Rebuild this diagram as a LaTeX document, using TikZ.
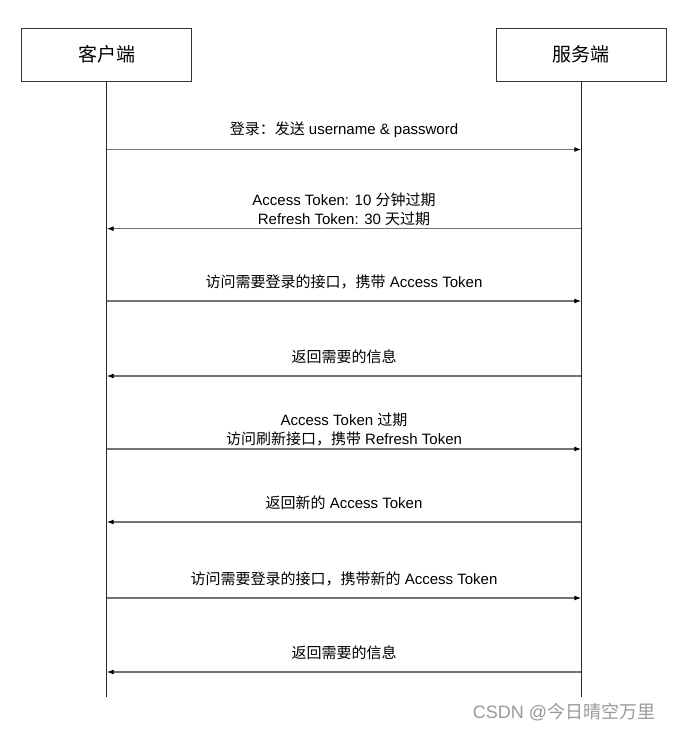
\documentclass[tikz,border=0pt]{standalone}
\usepackage{fontspec}
\setmainfont{Liberation Sans}
\newfontfamily\zh{Noto Sans CJK SC}
\usetikzlibrary{arrows.meta}
\tikzstyle{actor}=[rectangle,draw=black!80,line width=1pt,minimum width=170pt,minimum height=53pt,font=\fontsize{19}{22}\selectfont\zh]
\tikzstyle{life}=[draw=black!85,line width=1pt]
\tikzstyle{msg}=[draw=black!55,line width=1.2pt,-{Latex[length=7pt,width=5pt,color=black]}]
\tikzstyle{note}=[font=\fontsize{15}{19}\selectfont,align=center,inner sep=0pt]

\begin{document}
\begin{tikzpicture}[x=1pt,y=-1pt]
  \useasboundingbox (0,0) rectangle (676,732);
  \def\cx{106.7}
  \def\sx{581.3}

  \node[actor] (client) at (\cx, 54.7) {客户端};
  \node[actor] (server) at (\sx, 54.7) {服务端};
  \coordinate (client end) at (\cx, 697);
  \coordinate (server end) at (\sx, 697);
  \draw[life] (client) -- (client end);
  \draw[life] (server) -- (server end);

  \foreach \n/\y/\from/\to/\txt in {
    1/149.5/client/server/{{\zh 登录：发送} username \& password},
    2/228.7/server/client/{Access Token: 10 {\zh 分钟过期}\\Refresh Token: 30 {\zh 天过期}},
    3/301/client/server/{{\zh 访问需要登录的接口，携带} Access Token},
    4/376/server/client/{{\zh 返回需要的信息}},
    5/449/client/server/{Access Token {\zh 过期}\\{\zh 访问刷新接口，携带} Refresh Token},
    6/522/server/client/{{\zh 返回新的} Access Token},
    7/598/client/server/{{\zh 访问需要登录的接口，携带新的} Access Token},
    8/672/server/client/{{\zh 返回需要的信息}}} {
    \coordinate (client \n) at (\cx, \y);
    \coordinate (server \n) at (\sx, \y);
    \draw[msg] (\from\space\n) -- (\to\space\n)
      node[note, midway, yshift=19.5pt] (label \n) {\txt};
  }

  \node[font=\fontsize{18}{20}\selectfont, text=black!40] (mark) at (564, 712)
    {CSDN @{\zh 今日晴空万里}};
\end{tikzpicture}
\end{document}
